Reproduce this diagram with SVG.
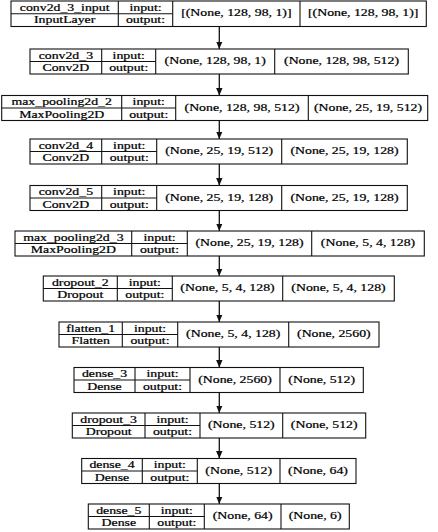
<svg xmlns="http://www.w3.org/2000/svg" width="438" height="532" viewBox="0 0 438 532">
<style>
rect.box{fill:#fff;stroke:#111;stroke-width:1.1}
line.d{stroke:#111;stroke-width:1.1}
text{font-family:"Liberation Serif","Times New Roman",serif;font-size:13.8px;fill:#000;stroke:#000;stroke-width:0.3;text-anchor:middle}
.e{stroke:#111;stroke-width:1.3;fill:none}
</style>
<defs>
<marker id="ah" markerUnits="userSpaceOnUse" markerWidth="8" markerHeight="8" refX="7.5" refY="3.2" orient="auto">
<path d="M0,0 L7.5,3.2 L0,6.4 Z" fill="#111"/>
</marker>
</defs>
<rect width="438" height="532" fill="#fff"/>
<g id="connectors">
<line class="e" x1="219.3" y1="26.5" x2="219.3" y2="49" marker-end="url(#ah)"/>
<line class="e" x1="219.3" y1="74" x2="219.3" y2="95.5" marker-end="url(#ah)"/>
<line class="e" x1="219.3" y1="120.5" x2="219.3" y2="139" marker-end="url(#ah)"/>
<line class="e" x1="219.3" y1="164" x2="219.3" y2="185.5" marker-end="url(#ah)"/>
<line class="e" x1="219.3" y1="210.5" x2="219.3" y2="231" marker-end="url(#ah)"/>
<line class="e" x1="219.3" y1="256" x2="219.3" y2="276" marker-end="url(#ah)"/>
<line class="e" x1="219.3" y1="301" x2="219.3" y2="322" marker-end="url(#ah)"/>
<line class="e" x1="219.3" y1="347" x2="219.3" y2="367.5" marker-end="url(#ah)"/>
<line class="e" x1="219.3" y1="392.5" x2="219.3" y2="413" marker-end="url(#ah)"/>
<line class="e" x1="219.3" y1="438" x2="219.3" y2="458.5" marker-end="url(#ah)"/>
<line class="e" x1="219.3" y1="483.5" x2="219.3" y2="504" marker-end="url(#ah)"/>
</g>

<g id="conv2d_3_input">
<rect class="box" x="11" y="1" width="415.3" height="25.5"/>
<line class="d" x1="118.3" y1="1" x2="118.3" y2="26.5"/>
<line class="d" x1="172.7" y1="1" x2="172.7" y2="26.5"/>
<line class="d" x1="300" y1="1" x2="300" y2="26.5"/>
<line class="d" x1="11" y1="13.75" x2="172.7" y2="13.75"/>
<text transform="translate(64.65,10.8) scale(1,0.68)">conv2d_3_input</text>
<text transform="translate(64.65,23.4) scale(1,0.68)">InputLayer</text>
<text transform="translate(145.5,10.8) scale(1,0.68)">input:</text>
<text transform="translate(145.5,23.4) scale(1,0.68)">output:</text>
<text transform="translate(236.35,16.3) scale(1,0.68)">[(None, 128, 98, 1)]</text>
<text transform="translate(363.15,16.3) scale(1,0.68)">[(None, 128, 98, 1)]</text>
</g>

<g id="conv2d_3">
<rect class="box" x="30" y="49" width="378.3" height="25"/>
<line class="d" x1="101.7" y1="49" x2="101.7" y2="74"/>
<line class="d" x1="155.7" y1="49" x2="155.7" y2="74"/>
<line class="d" x1="274.7" y1="49" x2="274.7" y2="74"/>
<line class="d" x1="30" y1="61.5" x2="155.7" y2="61.5"/>
<text transform="translate(65.85,58.6) scale(1,0.68)">conv2d_3</text>
<text transform="translate(65.85,71.1) scale(1,0.68)">Conv2D</text>
<text transform="translate(128.7,58.6) scale(1,0.68)">input:</text>
<text transform="translate(128.7,71.1) scale(1,0.68)">output:</text>
<text transform="translate(215.2,64.1) scale(1,0.68)">(None, 128, 98, 1)</text>
<text transform="translate(341.5,64.1) scale(1,0.68)">(None, 128, 98, 512)</text>
</g>

<g id="max_pooling2d_2">
<rect class="box" x="1.7" y="95.5" width="426" height="25"/>
<line class="d" x1="121.7" y1="95.5" x2="121.7" y2="120.5"/>
<line class="d" x1="175.7" y1="95.5" x2="175.7" y2="120.5"/>
<line class="d" x1="308.3" y1="95.5" x2="308.3" y2="120.5"/>
<line class="d" x1="1.7" y1="108" x2="175.7" y2="108"/>
<text transform="translate(61.7,105.1) scale(1,0.68)">max_pooling2d_2</text>
<text transform="translate(61.7,117.6) scale(1,0.68)">MaxPooling2D</text>
<text transform="translate(148.7,105.1) scale(1,0.68)">input:</text>
<text transform="translate(148.7,117.6) scale(1,0.68)">output:</text>
<text transform="translate(242,110.6) scale(1,0.68)">(None, 128, 98, 512)</text>
<text transform="translate(368,110.6) scale(1,0.68)">(None, 25, 19, 512)</text>
</g>

<g id="conv2d_4">
<rect class="box" x="30" y="139" width="377.3" height="25"/>
<line class="d" x1="101.7" y1="139" x2="101.7" y2="164"/>
<line class="d" x1="156.7" y1="139" x2="156.7" y2="164"/>
<line class="d" x1="281.7" y1="139" x2="281.7" y2="164"/>
<line class="d" x1="30" y1="151.5" x2="156.7" y2="151.5"/>
<text transform="translate(65.85,148.6) scale(1,0.68)">conv2d_4</text>
<text transform="translate(65.85,161.1) scale(1,0.68)">Conv2D</text>
<text transform="translate(129.2,148.6) scale(1,0.68)">input:</text>
<text transform="translate(129.2,161.1) scale(1,0.68)">output:</text>
<text transform="translate(219.2,154.1) scale(1,0.68)">(None, 25, 19, 512)</text>
<text transform="translate(344.5,154.1) scale(1,0.68)">(None, 25, 19, 128)</text>
</g>

<g id="conv2d_5">
<rect class="box" x="30" y="185.5" width="377.3" height="25"/>
<line class="d" x1="101.7" y1="185.5" x2="101.7" y2="210.5"/>
<line class="d" x1="156.7" y1="185.5" x2="156.7" y2="210.5"/>
<line class="d" x1="281.7" y1="185.5" x2="281.7" y2="210.5"/>
<line class="d" x1="30" y1="198" x2="156.7" y2="198"/>
<text transform="translate(65.85,195.1) scale(1,0.68)">conv2d_5</text>
<text transform="translate(65.85,207.6) scale(1,0.68)">Conv2D</text>
<text transform="translate(129.2,195.1) scale(1,0.68)">input:</text>
<text transform="translate(129.2,207.6) scale(1,0.68)">output:</text>
<text transform="translate(219.2,200.6) scale(1,0.68)">(None, 25, 19, 128)</text>
<text transform="translate(344.5,200.6) scale(1,0.68)">(None, 25, 19, 128)</text>
</g>

<g id="max_pooling2d_3">
<rect class="box" x="15" y="231" width="409.3" height="25"/>
<line class="d" x1="131.7" y1="231" x2="131.7" y2="256"/>
<line class="d" x1="187.3" y1="231" x2="187.3" y2="256"/>
<line class="d" x1="311.7" y1="231" x2="311.7" y2="256"/>
<line class="d" x1="15" y1="243.5" x2="187.3" y2="243.5"/>
<text transform="translate(73.35,240.6) scale(1,0.68)">max_pooling2d_3</text>
<text transform="translate(73.35,253.1) scale(1,0.68)">MaxPooling2D</text>
<text transform="translate(159.5,240.6) scale(1,0.68)">input:</text>
<text transform="translate(159.5,253.1) scale(1,0.68)">output:</text>
<text transform="translate(249.5,246.1) scale(1,0.68)">(None, 25, 19, 128)</text>
<text transform="translate(368,246.1) scale(1,0.68)">(None, 5, 4, 128)</text>
</g>

<g id="dropout_2">
<rect class="box" x="43.3" y="276" width="351" height="25"/>
<line class="d" x1="117.3" y1="276" x2="117.3" y2="301"/>
<line class="d" x1="172.3" y1="276" x2="172.3" y2="301"/>
<line class="d" x1="282.7" y1="276" x2="282.7" y2="301"/>
<line class="d" x1="43.3" y1="288.5" x2="172.3" y2="288.5"/>
<text transform="translate(80.3,285.6) scale(1,0.68)">dropout_2</text>
<text transform="translate(80.3,298.1) scale(1,0.68)">Dropout</text>
<text transform="translate(144.8,285.6) scale(1,0.68)">input:</text>
<text transform="translate(144.8,298.1) scale(1,0.68)">output:</text>
<text transform="translate(227.5,291.1) scale(1,0.68)">(None, 5, 4, 128)</text>
<text transform="translate(338.5,291.1) scale(1,0.68)">(None, 5, 4, 128)</text>
</g>

<g id="flatten_1">
<rect class="box" x="59" y="322" width="320" height="25"/>
<line class="d" x1="122.3" y1="322" x2="122.3" y2="347"/>
<line class="d" x1="177.7" y1="322" x2="177.7" y2="347"/>
<line class="d" x1="288.7" y1="322" x2="288.7" y2="347"/>
<line class="d" x1="59" y1="334.5" x2="177.7" y2="334.5"/>
<text transform="translate(90.65,331.6) scale(1,0.68)">flatten_1</text>
<text transform="translate(90.65,344.1) scale(1,0.68)">Flatten</text>
<text transform="translate(150,331.6) scale(1,0.68)">input:</text>
<text transform="translate(150,344.1) scale(1,0.68)">output:</text>
<text transform="translate(233.2,337.1) scale(1,0.68)">(None, 5, 4, 128)</text>
<text transform="translate(333.85,337.1) scale(1,0.68)">(None, 2560)</text>
</g>

<g id="dense_3">
<rect class="box" x="74" y="367.5" width="289.3" height="25"/>
<line class="d" x1="135" y1="367.5" x2="135" y2="392.5"/>
<line class="d" x1="190" y1="367.5" x2="190" y2="392.5"/>
<line class="d" x1="280" y1="367.5" x2="280" y2="392.5"/>
<line class="d" x1="74" y1="380" x2="190" y2="380"/>
<text transform="translate(104.5,377.1) scale(1,0.68)">dense_3</text>
<text transform="translate(104.5,389.6) scale(1,0.68)">Dense</text>
<text transform="translate(162.5,377.1) scale(1,0.68)">input:</text>
<text transform="translate(162.5,389.6) scale(1,0.68)">output:</text>
<text transform="translate(235,382.6) scale(1,0.68)">(None, 2560)</text>
<text transform="translate(321.65,382.6) scale(1,0.68)">(None, 512)</text>
</g>

<g id="dropout_3">
<rect class="box" x="72.3" y="413" width="293.4" height="25"/>
<line class="d" x1="145" y1="413" x2="145" y2="438"/>
<line class="d" x1="200" y1="413" x2="200" y2="438"/>
<line class="d" x1="282.7" y1="413" x2="282.7" y2="438"/>
<line class="d" x1="72.3" y1="425.5" x2="200" y2="425.5"/>
<text transform="translate(108.65,422.6) scale(1,0.68)">dropout_3</text>
<text transform="translate(108.65,435.1) scale(1,0.68)">Dropout</text>
<text transform="translate(172.5,422.6) scale(1,0.68)">input:</text>
<text transform="translate(172.5,435.1) scale(1,0.68)">output:</text>
<text transform="translate(241.35,428.1) scale(1,0.68)">(None, 512)</text>
<text transform="translate(324.2,428.1) scale(1,0.68)">(None, 512)</text>
</g>

<g id="dense_4">
<rect class="box" x="81.7" y="458.5" width="274.3" height="25"/>
<line class="d" x1="142.3" y1="458.5" x2="142.3" y2="483.5"/>
<line class="d" x1="197.3" y1="458.5" x2="197.3" y2="483.5"/>
<line class="d" x1="280" y1="458.5" x2="280" y2="483.5"/>
<line class="d" x1="81.7" y1="471" x2="197.3" y2="471"/>
<text transform="translate(112,468.1) scale(1,0.68)">dense_4</text>
<text transform="translate(112,480.6) scale(1,0.68)">Dense</text>
<text transform="translate(169.8,468.1) scale(1,0.68)">input:</text>
<text transform="translate(169.8,480.6) scale(1,0.68)">output:</text>
<text transform="translate(238.65,473.6) scale(1,0.68)">(None, 512)</text>
<text transform="translate(318,473.6) scale(1,0.68)">(None, 64)</text>
</g>

<g id="dense_5">
<rect class="box" x="88.3" y="504" width="261" height="25"/>
<line class="d" x1="149.3" y1="504" x2="149.3" y2="529"/>
<line class="d" x1="204.3" y1="504" x2="204.3" y2="529"/>
<line class="d" x1="281" y1="504" x2="281" y2="529"/>
<line class="d" x1="88.3" y1="516.5" x2="204.3" y2="516.5"/>
<text transform="translate(118.8,513.6) scale(1,0.68)">dense_5</text>
<text transform="translate(118.8,526.1) scale(1,0.68)">Dense</text>
<text transform="translate(176.8,513.6) scale(1,0.68)">input:</text>
<text transform="translate(176.8,526.1) scale(1,0.68)">output:</text>
<text transform="translate(242.65,519.1) scale(1,0.68)">(None, 64)</text>
<text transform="translate(315.15,519.1) scale(1,0.68)">(None, 6)</text>
</g>
</svg>
